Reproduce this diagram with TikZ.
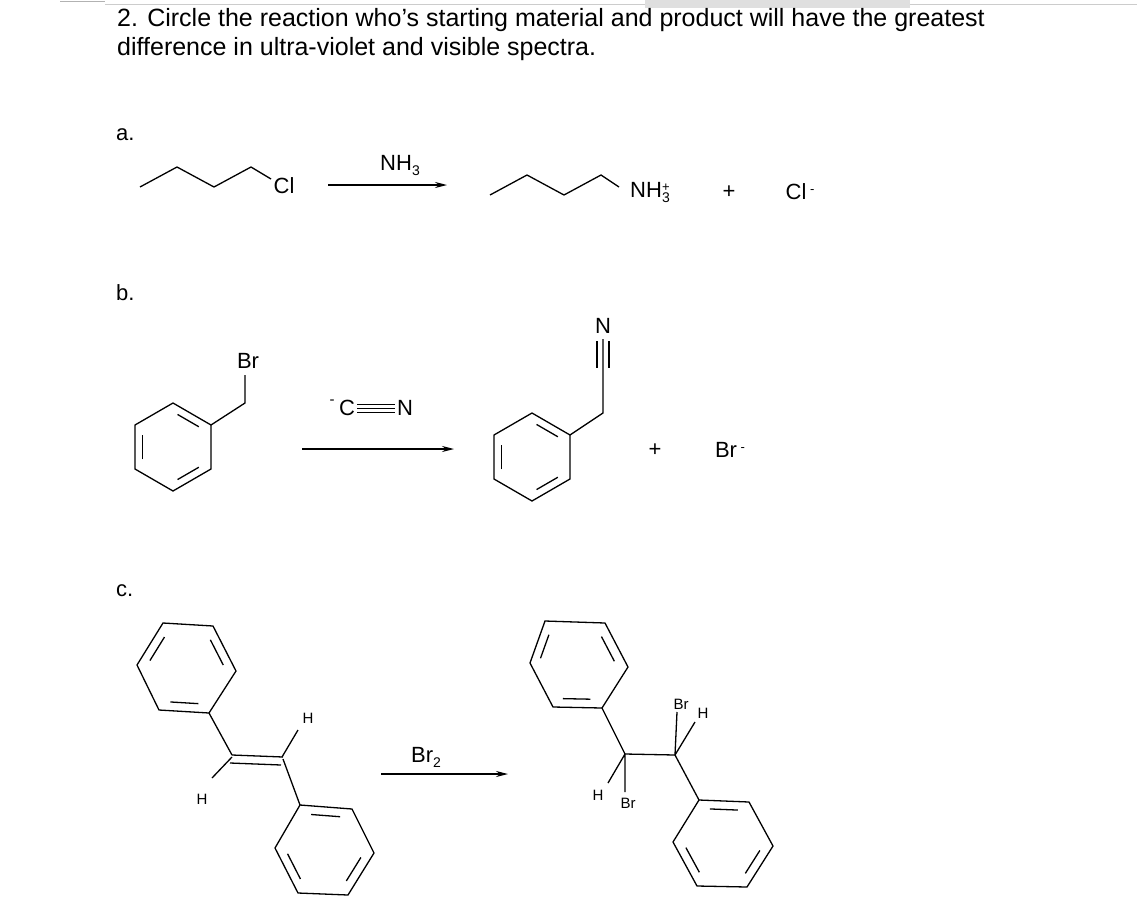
\documentclass[tikz,border=0pt]{standalone}
\usepackage{fontspec}
\setmainfont{Liberation Sans}
\usetikzlibrary{calc,arrows.meta}
\newcommand\inl[3]{\draw[bond] ($($(#1)!0.15!(#2)$)!0.2!(#3)$)--($($(#2)!0.15!(#1)$)!0.2!(#3)$);}
\newcommand\benzring[7]{%
  \draw[bond] (#2)--(#3)--(#4)--(#5)--(#6)--(#7)--cycle;
  \coordinate (cc) at ($(#2)!0.5!(#5)$);
  \ifnum#1=0
  \inl{#3}{#4}{cc}\inl{#5}{#6}{cc}\inl{#7}{#2}{cc}
  \else
  \inl{#2}{#3}{cc}\inl{#4}{#5}{cc}\inl{#6}{#7}{cc}
  \fi
}
\newcommand\sbs[1]{\raisebox{-5pt}{\fontsize{14}{14}\selectfont #1}}
\newcommand\chg[1]{\raisebox{6pt}{\fontsize{13}{13}\selectfont #1}}
\begin{document}
\begin{tikzpicture}[x=1pt,y=-1pt,
  bond/.style={line width=1.3pt},
  rxn/.style={line width=1.3pt,-{Stealth[length=12pt,width=6pt]}},
  lbl/.style={font=\fontsize{22}{24}\selectfont,inner sep=0pt},
  sml/.style={font=\fontsize{15}{16}\selectfont,inner sep=0pt},
  ttl/.style={font=\fontsize{25}{28}\selectfont,inner sep=0pt,anchor=base west}]
\useasboundingbox (0,0) rectangle (1137,910);
\draw[gray!40,line width=1pt] (105,4)--(1137,4);
\fill[gray!25] (645,0) rectangle (910,8);
\draw[gray!60,line width=1pt] (60,1)--(105,1);
\node[ttl] (t1) at (117,26) {2. Circle the reaction who’s starting material and product will have the greatest};
\node[ttl] (t2) at (117,55) {difference in ultra-violet and visible spectra.};
\node[lbl,anchor=west] (la) at (116,135) {a.};
\node[lbl,anchor=west] (lb) at (116,293) {b.};
\node[lbl,anchor=west] (lc) at (116,591) {c.};
% reaction a
\draw[bond] (140,187)--(177,167)--(214,187)--(251,167)--(271,179);
\node[lbl] (cl1) at (284,186) {Cl};
\coordinate (aA) at (328,185); \coordinate (aB) at (447,185);
\draw[rxn] (aA)--(aB);
\node[lbl] (nh3) at (400,165) {NH\sbs{3}};
\draw[bond] (490,195)--(527,175)--(564,195)--(601,175)--(619,187);
\node[lbl] (nh3p) at (650,192) {NH\rlap{\chg{+}}\sbs{3}};
\node[lbl] (pa) at (729,192) {+};
\node[lbl] (cl2) at (800,192) {Cl\,\chg{-}};
% reaction b
\benzring{1}{173,403}{211,425}{211,469}{173,491}{135,469}{135,425}
\draw[bond] (211,425)--(245,403)--(245,375);
\node[lbl] (br1) at (248,361) {Br};
\coordinate (bA) at (302,449); \coordinate (bB) at (454,449);
\draw[rxn] (bA)--(bB);
\node[lbl] (cm) at (347,408) {C};
\node[lbl] (nm) at (405,408) {N};
\node[sml] at (332,402) {-};
\draw[line width=1pt] (cm.east)++(2,-4)--++(38,0) (cm.east)++(2,0)--++(38,0) (cm.east)++(2,4)--++(38,0);
\benzring{1}{532,413}{570,435}{570,479}{532,501}{494,479}{494,435}
\draw[bond] (570,435)--(603,413)--(603,339);
\draw[bond] (597,341)--(597,368) (609,341)--(609,368);
\node[lbl] (n2) at (603,326) {N};
\node[lbl] (pb) at (655,450) {+};
\node[lbl] (br2) at (730,450) {Br\,\chg{-}};
% reaction c
\benzring{0}{163,623}{213,626}{236,671}{209,713}{159,710}{137,665}
\draw[bond] (209,713)--(232,755);
\draw[bond] (232,755)--(283,757);
\draw[bond] (230,763)--(281,765);
\draw[bond] (232,757)--(212,778);
\node[sml] (h1) at (202,799) {H};
\draw[bond] (282,757)--(298,730);
\node[sml] (h2) at (308,718) {H};
\draw[bond] (283,759)--(300,805);
\benzring{1}{300,805}{352,809}{374,853}{348,895}{298,893}{275,848}
\coordinate (cA) at (381,774); \coordinate (cB) at (508,774);
\draw[rxn] (cA)--(cB);
\node[lbl] (br2c) at (426,757) {Br\sbs{2}};
\benzring{0}{545,621}{605,623}{628,667}{602,708}{553,707}{530,663}
\draw[bond] (602,708)--(625,754)--(675,755)--(699,800);
\draw[bond] (625,754)--(625,792) (625,754)--(608,783);
\draw[bond] (675,755)--(677,712) (675,755)--(695,722);
\node[sml] (h3) at (598,795) {H};
\node[sml] (b3) at (628,803) {Br};
\node[sml] (b4) at (681,704) {Br};
\node[sml] (h4) at (703,713) {H};
\benzring{1}{699,800}{749,802}{773,846}{747,887}{697,886}{673,842}
\end{tikzpicture}
\end{document}
